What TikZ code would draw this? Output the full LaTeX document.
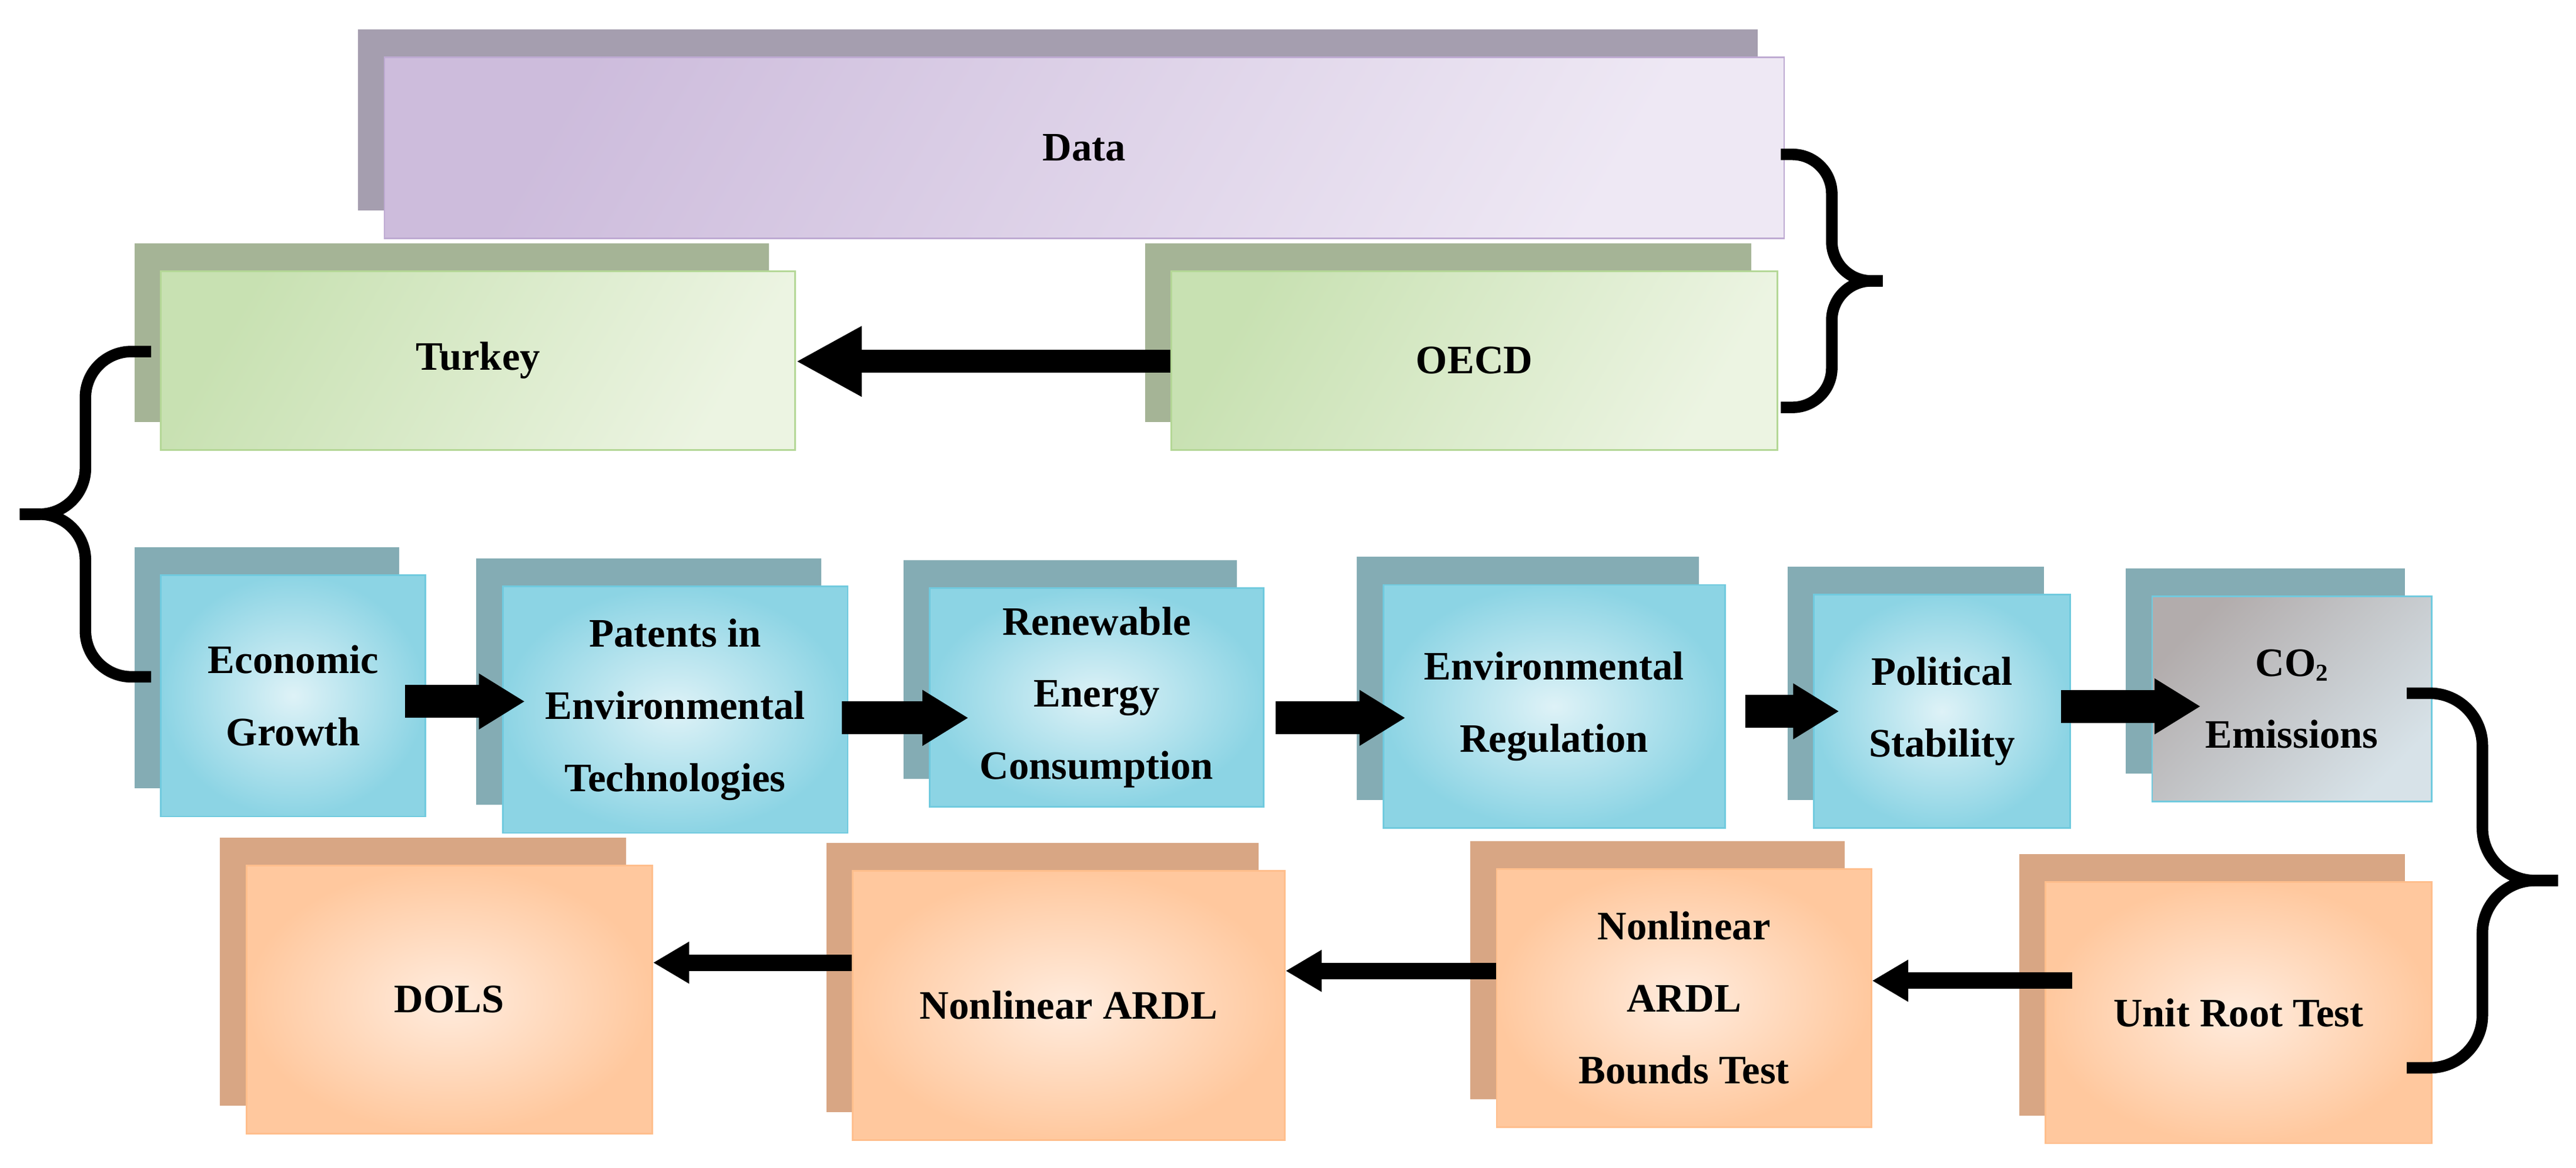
\documentclass[tikz,border=0pt]{standalone}
\usepackage{fontspec}
\setmainfont{Liberation Serif}
\usetikzlibrary{arrows.meta}
\definecolor{pB}{RGB}{165,158,175}\definecolor{pL}{RGB}{238,232,244}\definecolor{pD}{RGB}{205,188,220}\definecolor{pE}{RGB}{190,170,210}
\definecolor{gB}{RGB}{165,180,150}\definecolor{gL}{RGB}{236,244,226}\definecolor{gD}{RGB}{200,225,178}\definecolor{gE}{RGB}{180,215,150}
\definecolor{bB}{RGB}{132,172,180}\definecolor{bL}{RGB}{222,242,247}\definecolor{bD}{RGB}{140,212,228}\definecolor{bE}{RGB}{112,202,222}
\definecolor{cL}{RGB}{215,226,232}\definecolor{cD}{RGB}{178,172,172}
\definecolor{oB}{RGB}{216,166,132}\definecolor{oL}{RGB}{255,236,222}\definecolor{oD}{RGB}{255,200,158}\definecolor{oE}{RGB}{255,190,140}
\tikzset{
 txt/.style={font=\fontsize{70}{125}\selectfont\bfseries, align=center, inner sep=0pt, line width=1mm},
 purple/.style={txt, draw=pE, shading=axis, left color=pD, right color=pL, shading angle=60},
 green/.style={txt, draw=gE, shading=axis, left color=gD, right color=gL, shading angle=60},
 blue/.style={txt, draw=bE, shading=radial, inner color=bL, outer color=bD},
 gray/.style={txt, draw=bE, shading=axis, left color=cD, right color=cL, shading angle=45},
 orange/.style={txt, draw=oE, shading=radial, inner color=oL, outer color=oD},
 bigarrow/.style={line width=14mm, -{Triangle[length=40mm,width=40mm]}},
 midarrow/.style={line width=20mm, -{Triangle[length=28mm,width=32mm]}},
 smallarrow/.style={line width=10mm, -{Triangle[length=22mm,width=24mm]}},
 brc/.style={line width=7mm, rounded corners=#1}
}
% name, x1,y1,x2,y2 (front), back colour, style, text
\newcommand\bx[8]{%
 \fill[#6] (#2-16,#3-17) rectangle (#4-16,#5-17);
 \node[#7, minimum width={(#4-#2)*1mm}, minimum height={(#5-#3)*1mm}] (#1) at ({(#2+#4)/2},{(#3+#5)/2}) {#8};}
% brace: x, y1, y2, tip x, radius
\newcommand\mybrace[5]{%
 \draw[brc=#5] (#1,#2) -- ({(#1+#4)/2},#2) -- ({(#1+#4)/2},{(#2+#3)/2}) -- (#4,{(#2+#3)/2});
 \draw[brc=#5] (#1,#3) -- ({(#1+#4)/2},#3) -- ({(#1+#4)/2},{(#2+#3)/2}) -- (#4,{(#2+#3)/2});}
\begin{document}
\begin{tikzpicture}[x=1mm,y=-1mm]
\useasboundingbox (0,0) rectangle (1568,711);
\bx{data}{234}{35}{1086}{145}{pB}{purple}{Data}
\bx{turkey}{98}{165}{484}{274}{gB}{green}{Turkey}
\bx{oecd}{713}{165}{1082}{274}{gB}{green}{OECD}
\bx{eg}{98}{350}{259}{497}{bB}{blue}{Economic\\Growth}
\bx{pat}{306}{357}{516}{507}{bB}{blue}{Patents in\\Environmental\\Technologies}
\bx{ren}{566}{358}{769}{491}{bB}{blue}{Renewable\\Energy\\Consumption}
\bx{env}{842}{356}{1050}{504}{bB}{blue}{Environmental\\Regulation}
\bx{pol}{1104}{362}{1260}{504}{bB}{blue}{Political\\Stability}
\bx{co2}{1310}{363}{1480}{488}{bB}{gray}{CO\raisebox{-0.12em}{\scalebox{0.6}{2}}\\Emissions}
\bx{dols}{150}{527}{397}{690}{oB}{orange}{DOLS}
\bx{nardl}{519}{530}{782}{694}{oB}{orange}{Nonlinear ARDL}
\bx{bounds}{911}{529}{1139}{686}{oB}{orange}{Nonlinear\\ARDL\\Bounds Test}
\bx{unit}{1245}{537}{1480}{696}{oB}{orange}{Unit Root Test}
% arrows
\draw[bigarrow] (oecd.west |- 0,220) -- (turkey.east |- 0,220);
\draw[midarrow] ([xshift=-13mm]eg.east |- 0,427) -- ([xshift=14mm]pat.west |- 0,427);
\draw[midarrow] ([xshift=-4mm]pat.east |- 0,437) -- ([xshift=24mm]ren.west |- 0,437);
\draw[midarrow] ([xshift=7mm]ren.east |- 0,437) -- ([xshift=14mm]env.west |- 0,437);
\draw[midarrow] ([xshift=12mm]env.east |- 0,433) -- ([xshift=16mm]pol.west |- 0,433);
\draw[midarrow] ([xshift=-6mm]pol.east |- 0,430) -- ([xshift=30mm]co2.west |- 0,430);
\draw[smallarrow] ([xshift=17mm]unit.west |- 0,597) -- (bounds.east |- 0,597);
\draw[smallarrow] (bounds.west |- 0,591) -- (nardl.east |- 0,591);
\draw[smallarrow] (nardl.west |- 0,586) -- (dols.east |- 0,586);
% braces
\mybrace{1084}{94}{248}{1146}{24mm}
\mybrace{92}{214}{412}{12}{28mm}
\mybrace{1465}{422}{650}{1557}{32mm}
\end{tikzpicture}
\end{document}
